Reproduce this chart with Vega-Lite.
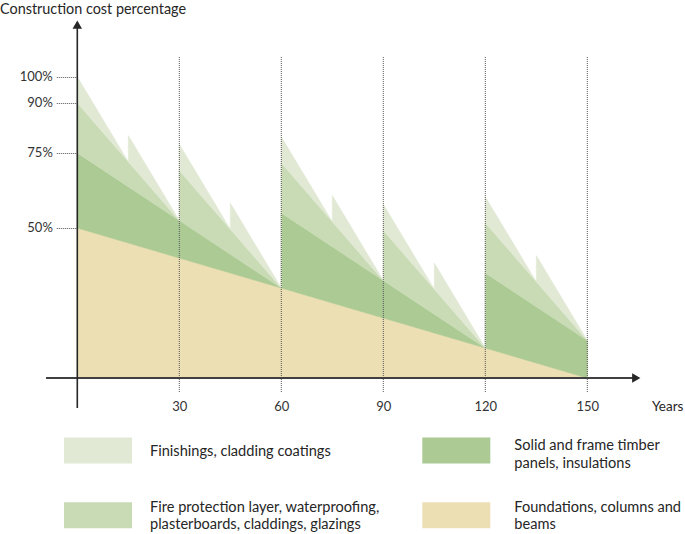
{
  "$schema": "https://vega.github.io/schema/vega-lite/v6.json",
  "autosize": {"type": "none"},
  "padding": {"left": 45, "top": 20, "right": 45, "bottom": 156},
  "width": 595,
  "height": 358,
  "background": "white",
  "config": {
    "view": {"stroke": null},
    "font": "Lato",
    "text": {"font": "Lato"}
  },
  "title": {
    "text": "Construction cost percentage",
    "anchor": "start",
    "frame": "group",
    "dx": -45,
    "offset": 3,
    "fontSize": 14.4,
    "fontWeight": "normal",
    "font": "Lato",
    "color": "#262626"
  },
  "datasets": {
    "components": [
      {"component": "Foundations, columns and beams", "year": 0, "low": 0, "high": 50},
      {"component": "Foundations, columns and beams", "year": 150, "low": 0, "high": 0},

      {"component": "Solid and frame timber panels, insulations", "year": 0, "low": 50, "high": 75},
      {"component": "Solid and frame timber panels, insulations", "year": 60, "low": 30, "high": 30},
      {"component": "Solid and frame timber panels, insulations", "year": 60, "low": 30, "high": 55},
      {"component": "Solid and frame timber panels, insulations", "year": 120, "low": 10, "high": 10},
      {"component": "Solid and frame timber panels, insulations", "year": 120, "low": 10, "high": 35},
      {"component": "Solid and frame timber panels, insulations", "year": 150, "low": 0, "high": 12.5},

      {"component": "Fire protection layer, waterproofing, plasterboards, claddings, glazings", "year": 0, "low": 75, "high": 91.7},
      {"component": "Fire protection layer, waterproofing, plasterboards, claddings, glazings", "year": 30, "low": 52.5, "high": 52.5},
      {"component": "Fire protection layer, waterproofing, plasterboards, claddings, glazings", "year": 30, "low": 52.5, "high": 69.2},
      {"component": "Fire protection layer, waterproofing, plasterboards, claddings, glazings", "year": 60, "low": 30, "high": 30},
      {"component": "Fire protection layer, waterproofing, plasterboards, claddings, glazings", "year": 60, "low": 55, "high": 71.7},
      {"component": "Fire protection layer, waterproofing, plasterboards, claddings, glazings", "year": 90, "low": 32.5, "high": 32.5},
      {"component": "Fire protection layer, waterproofing, plasterboards, claddings, glazings", "year": 90, "low": 32.5, "high": 49.2},
      {"component": "Fire protection layer, waterproofing, plasterboards, claddings, glazings", "year": 120, "low": 10, "high": 10},
      {"component": "Fire protection layer, waterproofing, plasterboards, claddings, glazings", "year": 120, "low": 35, "high": 51.7},
      {"component": "Fire protection layer, waterproofing, plasterboards, claddings, glazings", "year": 150, "low": 12.5, "high": 12.5},

      {"component": "Finishings, cladding coatings", "year": 0, "low": 91.7, "high": 100.4},
      {"component": "Finishings, cladding coatings", "year": 15, "low": 72.1, "high": 72.1},
      {"component": "Finishings, cladding coatings", "year": 15, "low": 72.1, "high": 80.8},
      {"component": "Finishings, cladding coatings", "year": 30, "low": 52.5, "high": 52.5},
      {"component": "Finishings, cladding coatings", "year": 30, "low": 69.2, "high": 77.9},
      {"component": "Finishings, cladding coatings", "year": 45, "low": 49.6, "high": 49.6},
      {"component": "Finishings, cladding coatings", "year": 45, "low": 49.6, "high": 58.3},
      {"component": "Finishings, cladding coatings", "year": 60, "low": 30, "high": 30},
      {"component": "Finishings, cladding coatings", "year": 60, "low": 71.7, "high": 80.4},
      {"component": "Finishings, cladding coatings", "year": 75, "low": 52.1, "high": 52.1},
      {"component": "Finishings, cladding coatings", "year": 75, "low": 52.1, "high": 60.8},
      {"component": "Finishings, cladding coatings", "year": 90, "low": 32.5, "high": 32.5},
      {"component": "Finishings, cladding coatings", "year": 90, "low": 49.2, "high": 57.9},
      {"component": "Finishings, cladding coatings", "year": 105, "low": 29.6, "high": 29.6},
      {"component": "Finishings, cladding coatings", "year": 105, "low": 29.6, "high": 38.3},
      {"component": "Finishings, cladding coatings", "year": 120, "low": 10, "high": 10},
      {"component": "Finishings, cladding coatings", "year": 120, "low": 51.7, "high": 60.4},
      {"component": "Finishings, cladding coatings", "year": 135, "low": 32.1, "high": 32.1},
      {"component": "Finishings, cladding coatings", "year": 135, "low": 32.1, "high": 40.8},
      {"component": "Finishings, cladding coatings", "year": 150, "low": 12.5, "high": 12.5}
    ],
    "renewals": [
      {"year": 30}, {"year": 60}, {"year": 90}, {"year": 120}, {"year": 150}
    ]
  },
  "layer": [
    {
      "data": {"name": "components"},
      "mark": {"type": "area", "strokeWidth": 0.6, "opacity": 1},
      "encoding": {
        "x": {
          "field": "year",
          "type": "quantitative",
          "scale": {"domain": [-9.5, 165.5], "nice": false, "zero": false},
          "axis": {
            "values": [30, 60, 90, 120, 150],
            "domain": false,
            "ticks": false,
            "tickSize": 0,
            "grid": false,
            "labelPadding": 22,
            "labelFontSize": 13,
            "labelFont": "Lato",
            "labelColor": "#333333",
            "title": null
          }
        },
        "y": {
          "field": "low",
          "type": "quantitative",
          "scale": {"domain": [0, 119.33], "nice": false, "zero": false},
          "axis": {
            "values": [50, 75, 91.7, 100.4],
            "labelExpr": "datum.value > 100 ? '100%' : datum.value > 90 ? '90%' : datum.value > 70 ? '75%' : '50%'",
            "offset": -32.3,
            "domain": false,
            "grid": false,
            "tickSize": 22,
            "tickDash": [1, 1],
            "tickColor": "#555555",
            "tickWidth": 1,
            "labelPadding": 3,
            "labelFontSize": 13,
            "labelFont": "Lato",
            "labelColor": "#333333",
            "title": null
          }
        },
        "y2": {"field": "high"},
        "color": {
          "field": "component",
          "type": "nominal",
          "scale": {
            "domain": [
              "Finishings, cladding coatings",
              "Solid and frame timber panels, insulations",
              "Fire protection layer, waterproofing, plasterboards, claddings, glazings",
              "Foundations, columns and beams"
            ],
            "range": ["#E1E9D5", "#ACCA94", "#C9DBB5", "#EDDFB4"]
          },
          "legend": {
            "orient": "none",
            "legendX": 19,
            "legendY": 396.2,
            "columns": 2,
            "title": null,
            "values": [
              "Finishings, cladding coatings",
              "Fire protection layer, waterproofing, plasterboards, claddings, glazings",
              "Solid and frame timber panels, insulations",
              "Foundations, columns and beams"
            ],
            "symbolType": "M-1,-0.382H1V0.382H-1Z M-1,-0.45 M1,0.9",
            "symbolSize": 4624,
            "symbolStrokeWidth": 0,
            "symbolOpacity": 1,
            "labelFontSize": 14.6,
            "labelFont": "Lato",
            "labelColor": "#262626",
            "labelOffset": 18,
            "labelLimit": 400,
            "rowPadding": 0.1,
            "columnPadding": 42.3,
            "labelExpr": "datum.label == 'Solid and frame timber panels, insulations' ? ['Solid and frame timber', 'panels, insulations'] : datum.label == 'Fire protection layer, waterproofing, plasterboards, claddings, glazings' ? ['Fire protection layer, waterproofing,', 'plasterboards, claddings, glazings'] : datum.label == 'Foundations, columns and beams' ? ['Foundations, columns and', 'beams'] : datum.label",
            "encode": {
              "labels": {
                "update": {
                  "lineHeight": {"signal": "datum.index == 1 || datum.index == 3 ? 17 : 18"},
                  "x": {"signal": "datum.index > 1 ? 92 : 86"},
                  "dy": {"signal": "datum.index == 0 ? 2 : datum.index == 2 ? -4.5 : -7.5"}
                }
              }
            }
          }
        },
        "stroke": {
          "field": "component",
          "type": "nominal",
          "scale": {
            "domain": [
              "Finishings, cladding coatings",
              "Solid and frame timber panels, insulations",
              "Fire protection layer, waterproofing, plasterboards, claddings, glazings",
              "Foundations, columns and beams"
            ],
            "range": ["#E1E9D5", "#ACCA94", "#C9DBB5", "#EDDFB4"]
          },
          "legend": null
        }
      }
    },
    {
      "data": {"name": "renewals"},
      "mark": {"type": "rule", "color": "#555555", "strokeWidth": 1, "strokeDash": [1, 1]},
      "encoding": {
        "x": {"field": "year", "type": "quantitative"},
        "y": {"datum": 107},
        "y2": {"datum": -4.7}
      }
    },
    {
      "data": {"values": [{}]},
      "layer": [
        {
          "mark": {"type": "rule", "color": "#404040", "strokeWidth": 2},
          "encoding": {
            "x": {"datum": -9.2, "type": "quantitative"},
            "x2": {"datum": 163.5},
            "y": {"datum": 0, "type": "quantitative"}
          }
        },
        {
          "mark": {"type": "rule", "color": "#262626", "strokeWidth": 1.6},
          "encoding": {
            "x": {"datum": 0, "type": "quantitative"},
            "y": {"datum": -10, "type": "quantitative"},
            "y2": {"datum": 117}
          }
        },
        {
          "mark": {"type": "point", "shape": "triangle-right", "filled": true, "size": 90, "color": "#262626", "opacity": 1},
          "encoding": {
            "x": {"datum": 164.4, "type": "quantitative"},
            "y": {"datum": 0, "type": "quantitative"}
          }
        },
        {
          "mark": {"type": "point", "shape": "triangle-up", "filled": true, "size": 90, "color": "#262626", "opacity": 1},
          "encoding": {
            "x": {"datum": 0, "type": "quantitative"},
            "y": {"datum": 117.8, "type": "quantitative"}
          }
        },
        {
          "mark": {"type": "text", "text": "Years", "align": "left", "baseline": "middle", "fontSize": 13.5, "font": "Lato", "color": "#262626"},
          "encoding": {
            "x": {"datum": 169, "type": "quantitative"},
            "y": {"datum": -9.7, "type": "quantitative"}
          }
        }
      ]
    }
  ]
}
